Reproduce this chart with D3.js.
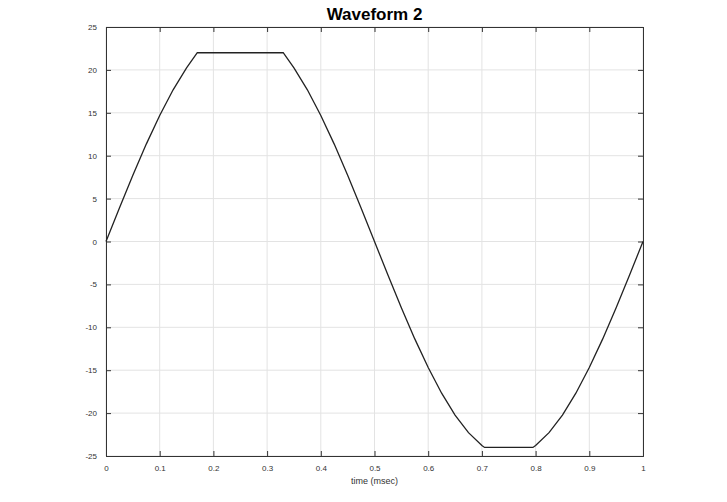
<!DOCTYPE html>
<html>
<head>
<meta charset="utf-8">
<script src="https://cdn.jsdelivr.net/npm/d3@7"></script>
<style>
  body { margin: 0; background: #fff; }
  text { font-family: "Liberation Sans", Arial, sans-serif; }
</style>
</head>
<body>
<div id="chart"></div>
<script>
// values
const timeValues = [0, 0.025, 0.05, 0.075, 0.1, 0.125, 0.15, 0.17, 0.33, 0.35, 0.375, 0.4, 0.425, 0.45, 0.475, 0.5,
  0.525, 0.55, 0.575, 0.6, 0.625, 0.65, 0.675, 0.7, 0.705, 0.795, 0.8, 0.825, 0.85, 0.875, 0.9, 0.925, 0.95, 0.975, 1];
const waveValues = [0, 3.91, 7.73, 11.35, 14.69, 17.68, 20.23, 22, 22, 20.23, 17.68, 14.69, 11.35, 7.73, 3.91, 0,
  -3.91, -7.73, -11.35, -14.69, -17.68, -20.23, -22.28, -23.78, -24, -24, -23.78, -22.28, -20.23, -17.68, -14.69, -11.35, -7.73, -3.91, 0];
const xTicks = [0, 0.1, 0.2, 0.3, 0.4, 0.5, 0.6, 0.7, 0.8, 0.9, 1];
const yTicks = [-25, -20, -15, -10, -5, 0, 5, 10, 15, 20, 25];

const margin = { top: 27, right: 84, bottom: 46, left: 106 };
const width = 727 - margin.left - margin.right;
const height = 502 - margin.top - margin.bottom;

const svg = d3.select("#chart").append("svg")
  .attr("width", 727).attr("height", 502);
const g = svg.append("g").attr("transform", `translate(${margin.left}, ${margin.top})`);

const x = d3.scaleLinear().domain([0, 1]).range([0, width]);
const y = d3.scaleLinear().domain([-25, 25]).range([height, 0]);

// grid
g.append("g").selectAll("line").data(xTicks).enter().append("line")
  .attr("x1", d => x(d)).attr("x2", d => x(d)).attr("y1", 0).attr("y2", height)
  .attr("stroke", "#e3e3e3");
g.append("g").selectAll("line").data(yTicks).enter().append("line")
  .attr("y1", d => y(d)).attr("y2", d => y(d)).attr("x1", 0).attr("x2", width)
  .attr("stroke", "#e3e3e3");

// axes (ticks inward)
const xAxis = g.append("g").attr("transform", `translate(0, ${height})`)
  .call(d3.axisBottom(x).tickValues(xTicks).tickSize(-5).tickPadding(9).tickFormat(d => String(d)));
const xTop = g.append("g")
  .call(d3.axisTop(x).tickValues(xTicks).tickSize(-5).tickFormat(""));
const yAxis = g.append("g")
  .call(d3.axisLeft(y).tickValues(yTicks).tickSize(-5).tickPadding(9).tickFormat(d => String(d)));
const yRight = g.append("g").attr("transform", `translate(${width}, 0)`)
  .call(d3.axisRight(y).tickValues(yTicks).tickSize(-5).tickFormat(""));
[xAxis, xTop, yAxis, yRight].forEach(a => {
  a.selectAll("path, line").attr("stroke", "#333");
  a.selectAll("text").attr("font-size", 8).attr("fill", "#333");
});

// line
const line = d3.line()
  .x((d, i) => x(timeValues[i]))
  .y(d => y(d));
g.append("path")
  .datum(waveValues)
  .attr("d", line)
  .attr("fill", "none")
  .attr("stroke", "#222")
  .attr("stroke-width", 1.3);

// title and label
svg.append("text").attr("x", margin.left + width / 2).attr("y", 20)
  .attr("text-anchor", "middle").attr("font-size", 17).attr("font-weight", "bold")
  .text("Waveform 2");
svg.append("text").attr("x", margin.left + width / 2).attr("y", 484)
  .attr("text-anchor", "middle").attr("font-size", 9).attr("fill", "#333")
  .text("time (msec)");
</script>
</body>
</html>
